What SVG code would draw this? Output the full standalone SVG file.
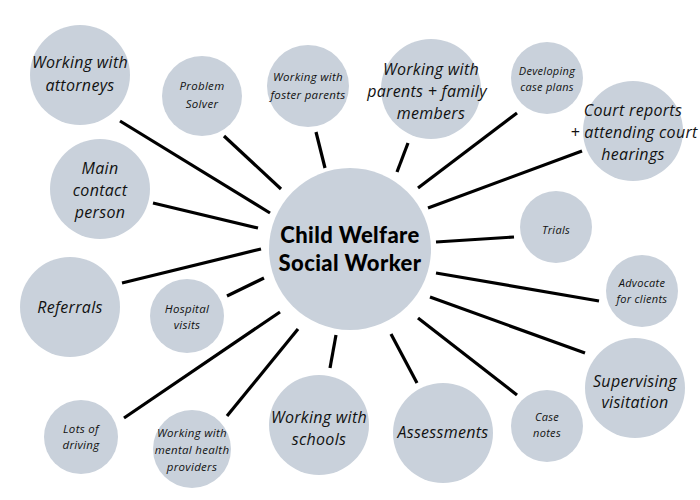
<svg xmlns="http://www.w3.org/2000/svg" width="700" height="500" viewBox="0 0 700 500">
<style>
  .n { fill: #c9d1db; }
  .t { font-family: "Open Sans", "DejaVu Sans", sans-serif; font-style: italic; fill: #111; text-anchor: middle; letter-spacing: 0.3px; }
  .l { font-size: 16px; }
  .s { font-size: 11.5px; }
  .xs { font-size: 11px; }
  .c { font-family: Lato, "Open Sans", sans-serif; font-weight: 900; font-size: 22px; fill: #000; text-anchor: middle; letter-spacing: 0.4px; }
  #connectors line { stroke: #000; stroke-width: 3.2; stroke-linecap: butt; }
</style>
<rect width="700" height="500" fill="#fff"/>
<g id="connectors">
  <line x1="120" y1="121" x2="270" y2="213"/>
  <line x1="224" y1="136" x2="281" y2="189"/>
  <line x1="316" y1="132" x2="325" y2="168"/>
  <line x1="153" y1="203" x2="258" y2="228"/>
  <line x1="408" y1="143" x2="397" y2="172"/>
  <line x1="517" y1="113" x2="418" y2="188"/>
  <line x1="582" y1="151" x2="428" y2="208"/>
  <line x1="514" y1="237" x2="436" y2="242"/>
  <line x1="122" y1="283" x2="261" y2="249"/>
  <line x1="227" y1="296" x2="264" y2="278"/>
  <line x1="124" y1="418" x2="280" y2="312"/>
  <line x1="227" y1="416" x2="298" y2="329"/>
  <line x1="330" y1="368" x2="336" y2="335"/>
  <line x1="436" y1="273" x2="599" y2="301"/>
  <line x1="430" y1="297" x2="585" y2="353"/>
  <line x1="418" y1="318" x2="517" y2="395"/>
  <line x1="391" y1="334" x2="417" y2="383"/>
</g>
<g id="center">
  <circle class="n" cx="350" cy="249" r="81"/>
  <text class="c" x="350" y="243">Child Welfare</text>
  <text class="c" x="350" y="271">Social Worker</text>
</g>
<g id="attorneys">
  <circle class="n" cx="80" cy="75" r="50"/>
  <text class="t l" x="80" y="68">Working with</text>
  <text class="t l" x="80" y="91">attorneys</text>
</g>
<g id="problem-solver">
  <circle class="n" cx="202" cy="96" r="40"/>
  <text class="t s" x="202" y="90">Problem</text>
  <text class="t s" x="202" y="108">Solver</text>
</g>
<g id="foster-parents">
  <circle class="n" cx="308" cy="86" r="41"/>
  <text class="t s" x="308" y="81">Working with</text>
  <text class="t s" x="308" y="99">foster parents</text>
</g>
<g id="main-contact">
  <circle class="n" cx="100" cy="189" r="50"/>
  <text class="t l" x="100" y="174">Main</text>
  <text class="t l" x="100" y="196">contact</text>
  <text class="t l" x="100" y="218">person</text>
</g>
<g id="parents-family">
  <circle class="n" cx="431" cy="89" r="50"/>
  <text class="t l" x="431" y="75">Working with</text>
  <text class="t l" x="427" y="97">parents + family</text>
  <text class="t l" x="431" y="119">members</text>
</g>
<g id="case-plans">
  <circle class="n" cx="547" cy="78" r="36"/>
  <text class="t xs" x="547" y="75">Developing</text>
  <text class="t xs" x="547" y="91">case plans</text>
</g>
<g id="court-reports">
  <circle class="n" cx="633" cy="131" r="50"/>
  <text class="t l" x="633" y="116">Court reports</text>
  <text class="t l" x="634" y="138">+ attending court</text>
  <text class="t l" x="633" y="160">hearings</text>
</g>
<g id="trials">
  <circle class="n" cx="556" cy="227" r="36"/>
  <text class="t xs" x="556" y="234">Trials</text>
</g>
<g id="advocate">
  <circle class="n" cx="642" cy="291" r="36"/>
  <text class="t xs" x="642" y="287">Advocate</text>
  <text class="t xs" x="642" y="303">for clients</text>
</g>
<g id="supervising">
  <circle class="n" cx="635" cy="388" r="50"/>
  <text class="t l" x="635" y="387">Supervising</text>
  <text class="t l" x="635" y="408">visitation</text>
</g>
<g id="case-notes">
  <circle class="n" cx="547" cy="426" r="36"/>
  <text class="t xs" x="547" y="421">Case</text>
  <text class="t xs" x="547" y="437">notes</text>
</g>
<g id="assessments">
  <circle class="n" cx="443" cy="433" r="50"/>
  <text class="t l" x="443" y="438">Assessments</text>
</g>
<g id="schools">
  <circle class="n" cx="319" cy="425" r="50"/>
  <text class="t l" x="319" y="423">Working with</text>
  <text class="t l" x="319" y="445">schools</text>
</g>
<g id="mental-health">
  <circle class="n" cx="192" cy="449" r="39"/>
  <text class="t s" x="192" y="437">Working with</text>
  <text class="t s" x="192" y="454">mental health</text>
  <text class="t s" x="192" y="471">providers</text>
</g>
<g id="driving">
  <circle class="n" cx="81" cy="437" r="37"/>
  <text class="t s" x="81" y="433">Lots of</text>
  <text class="t s" x="81" y="449">driving</text>
</g>
<g id="hospital">
  <circle class="n" cx="187" cy="316" r="37"/>
  <text class="t s" x="187" y="313">Hospital</text>
  <text class="t s" x="187" y="329">visits</text>
</g>
<g id="referrals">
  <circle class="n" cx="70" cy="307" r="50"/>
  <text class="t l" x="70" y="313">Referrals</text>
</g>
</svg>
